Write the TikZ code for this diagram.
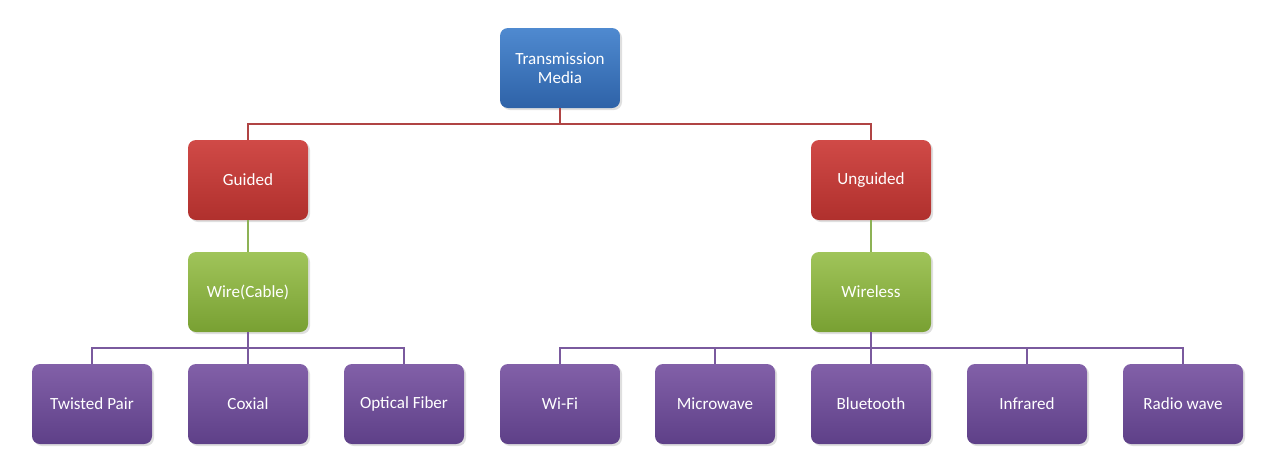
\documentclass[tikz,border=0pt]{standalone}
\usepackage{fontspec}
\setmainfont{Carlito}
\usetikzlibrary{shadows}
\definecolor{bluetop}{HTML}{4F8AD0}
\definecolor{bluebot}{HTML}{2E62A8}
\definecolor{redtop}{HTML}{D04A47}
\definecolor{redbot}{HTML}{B0302D}
\definecolor{greentop}{HTML}{A0C45A}
\definecolor{greenbot}{HTML}{78A032}
\definecolor{purptop}{HTML}{8260A8}
\definecolor{purpbot}{HTML}{5E4088}
\definecolor{redline}{HTML}{B04444}
\definecolor{greenline}{HTML}{8DB255}
\definecolor{purpline}{HTML}{7A5A9E}
\tikzset{
  box/.style={rounded corners=6pt, minimum width=90pt, minimum height=60pt,
    text=white, align=center, font=\fontsize{12.8}{14.5}\selectfont,
    drop shadow={shadow xshift=1.5pt, shadow yshift=-1.5pt, opacity=0.25}},
  bluebox/.style={box, top color=bluetop, bottom color=bluebot},
  redbox/.style={box, top color=redtop, bottom color=redbot},
  greenbox/.style={box, top color=greentop, bottom color=greenbot},
  purpbox/.style={box, top color=purptop, bottom color=purpbot},
  link/.style={line width=1.5pt}
}
\begin{document}
\begin{tikzpicture}[x=0.75pt, y=-0.75pt]
\useasboundingbox[fill=white] (0,0) rectangle (1267,472);
\node[bluebox] (tm) at (560,68) {Transmission\\Media};
\node[redbox] (g) at (248,180) {Guided};
\node[redbox] (u) at (871,180) {Unguided};
\node[greenbox] (w) at (248,292) {Wire(Cable)};
\node[greenbox] (wl) at (871,292) {Wireless};
\node[purpbox] (tp) at (92,404) {Twisted Pair};
\node[purpbox] (cx) at (248,404) {Coxial};
\node[purpbox] (of) at (404,404) {Optical Fiber};
\node[purpbox] (wf) at (560,404) {Wi-Fi};
\node[purpbox] (mw) at (715,404) {Microwave};
\node[purpbox] (bt) at (871,404) {Bluetooth};
\node[purpbox] (ir) at (1027,404) {Infrared};
\node[purpbox] (rw) at (1183,404) {Radio wave};
\draw[link, redline] (tm.south) -- ++(0,16) -| (g.north);
\draw[link, redline] (tm.south) -- ++(0,16) -| (u.north);
\draw[link, greenline] (g.south) -- (w.north);
\draw[link, greenline] (u.south) -- (wl.north);
\foreach \t in {tp,cx,of} \draw[link, purpline] (w.south) -- ++(0,16) -| (\t.north);
\foreach \t in {wf,mw,bt,ir,rw} \draw[link, purpline] (wl.south) -- ++(0,16) -| (\t.north);
\end{tikzpicture}
\end{document}
